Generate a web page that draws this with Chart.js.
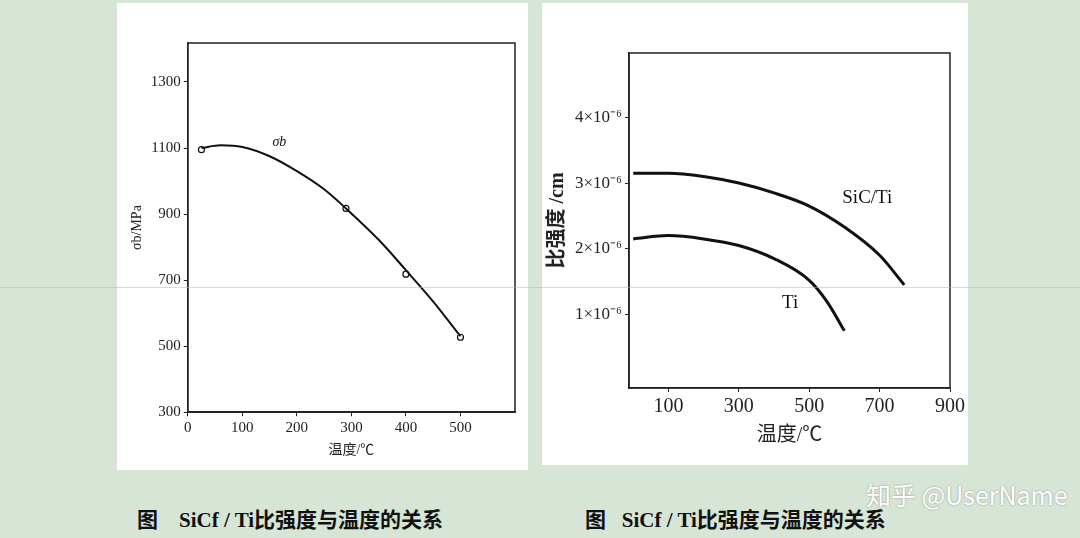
<!DOCTYPE html>
<html><head><meta charset="utf-8">
<script src="https://cdn.jsdelivr.net/npm/chart.js@4"></script>
<style>
body{margin:0;width:1080px;height:538px;background:#d6e5d6;position:relative;overflow:hidden;font-family:"Liberation Serif",serif}
.panel{position:absolute;background:#fff}
.cap{position:absolute;top:503px;font-size:21px;font-weight:bold;color:#111;font-family:"Liberation Serif","Noto Sans CJK SC",serif;white-space:pre}
.wm{position:absolute;left:866px;top:476px;font-size:25px;color:#fff;font-family:"Noto Sans CJK SC",sans-serif;text-shadow:0 0 2px #888;white-space:nowrap}
.hl{position:absolute;left:0;top:287px;width:1080px;height:1px;background:rgba(180,180,180,0.5)}
</style></head><body>
<div class="panel" style="left:117px;top:3px;width:411px;height:467px"><canvas id="c1" width="411" height="467"></canvas></div>
<div class="panel" style="left:542px;top:3px;width:426px;height:462px"><canvas id="c2" width="426" height="462"></canvas></div>
<div class="hl"></div>
<div class="cap" style="left:137px">图    SiCf / Ti比强度与温度的关系</div>
<div class="cap" style="left:585px">图   SiCf / Ti比强度与温度的关系</div>
<div class="wm">知乎 @UserName</div>
<script>
const tempCurve=[25,60,100,150,200,250,290,350,400,450,500];
const sigmaCurve=[1100,1108,1103,1075,1030,975,917,822,730,635,530];
const tempPts=[25,290,400,500];
const sigmaPts=[1095,917,718,527];
const sigmaTicks=[300,500,700,900,1100,1300];
const tempTicks1=[0,100,200,300,400,500];

const tempR=[0,100,200,300,400,500,600,700,770];
const sicti=[3.15,3.15,3.1,3.0,2.85,2.65,2.33,1.9,1.45];
const tempTi=[0,100,200,300,400,500,550,600];
const ti=[2.15,2.2,2.15,2.05,1.85,1.52,1.2,0.75];
const tempTicks2=[100,300,500,700,900];
const strTicks=[1,2,3,4];

Chart.defaults.animation=false;
Chart.defaults.color='#222';
const F="'Liberation Serif', serif";
const CJ="'Liberation Serif','Noto Sans CJK SC',serif";
const textPlugin={id:'txt',afterDatasetsDraw(c,a,o){const ctx=c.ctx;(o.items||[]).forEach(t=>{ctx.save();ctx.font=t.font;ctx.fillStyle='#111';ctx.textAlign='center';ctx.textBaseline='middle';ctx.fillText(t.text,c.scales.x.getPixelForValue(t.x),c.scales.y.getPixelForValue(t.y));ctx.restore();});
 const ca=c.chartArea;ctx.save();ctx.strokeStyle='#222';ctx.lineWidth=1.5;ctx.strokeRect(ca.left,ca.top,ca.right-ca.left,ca.bottom-ca.top);ctx.restore();}};
const xy=(xs,ys)=>xs.map((x,i)=>({x,y:ys[i]}));
function axis(min,max,ticks,fmt,title,size,tsize,bold){return{type:'linear',min,max,afterBuildTicks:s=>{s.ticks=ticks.map(v=>({value:v}))},
 ticks:{font:{family:F,size},color:'#222',callback:fmt,padding:3},grid:{drawOnChartArea:false,tickLength:4,color:'#222'},border:{color:'#222',width:1.5},
 title:{display:true,text:title,font:{family:CJ,size:tsize,weight:bold?'bold':'normal'},color:'#222',padding:2}};}

new Chart(document.getElementById('c1'),{type:'line',plugins:[textPlugin],
data:{datasets:[
{data:xy(tempCurve,sigmaCurve),borderColor:'#111',borderWidth:2,pointRadius:0,tension:0.4,cubicInterpolationMode:'monotone'},
{type:'scatter',data:xy(tempPts,sigmaPts),pointRadius:3,pointBackgroundColor:'#fff',pointBorderColor:'#111',pointBorderWidth:1.2}]},
options:{responsive:false,layout:{padding:{left:10,right:13,top:40,bottom:9}},plugins:{legend:{display:false},tooltip:{enabled:false},
 txt:{items:[{text:'σb',x:168,y:1118,font:"italic 14px "+F}]}},
 scales:{x:axis(0,600,tempTicks1,v=>v,'温度/℃',15,14),y:axis(300,1418,sigmaTicks,v=>v,'σb/MPa',15,14)}}});

new Chart(document.getElementById('c2'),{type:'line',plugins:[textPlugin],
data:{datasets:[
{data:xy(tempR,sicti),borderColor:'#111',borderWidth:3,pointRadius:0,tension:0.4,cubicInterpolationMode:'monotone'},
{data:xy(tempTi,ti),borderColor:'#111',borderWidth:3,pointRadius:0,tension:0.4,cubicInterpolationMode:'monotone'}]},
options:{responsive:false,layout:{padding:{left:2,right:16,top:50,bottom:15}},plugins:{legend:{display:false},tooltip:{enabled:false},
 txt:{items:[{text:'SiC/Ti',x:665,y:2.77,font:"19px "+F},{text:'Ti',x:446,y:1.18,font:"19px "+F}]}},
 scales:{x:axis(-12,900,tempTicks2,v=>v,'温度/℃',20,20),y:axis(-0.12,4.98,strTicks,v=>v+'×10⁻⁶','比强度 /cm',17,20,true)}}});
</script></body></html>
